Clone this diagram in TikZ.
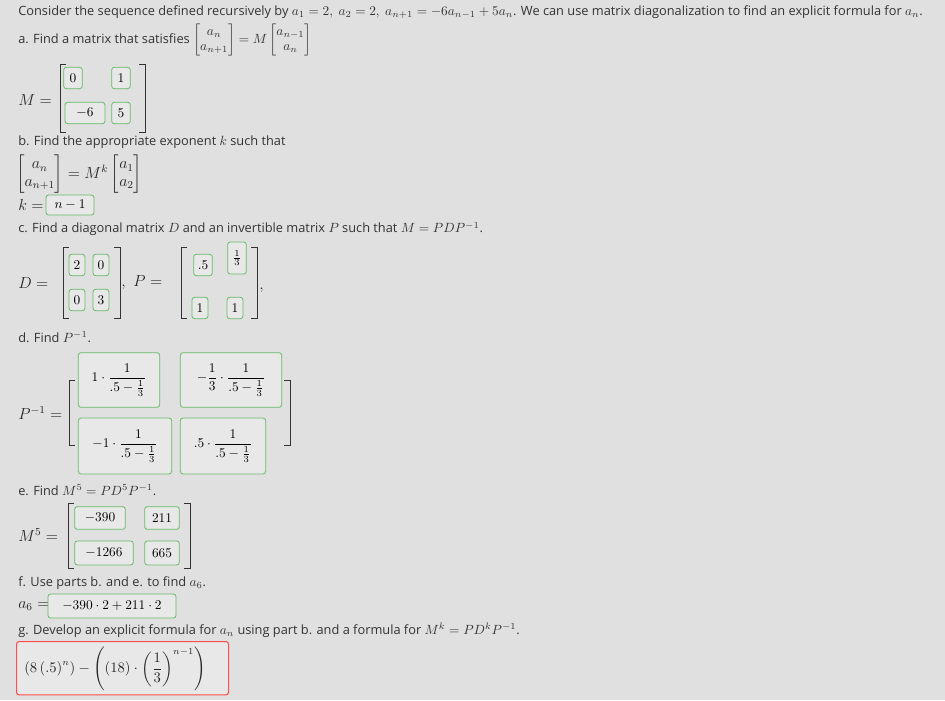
\documentclass[tikz,border=0pt]{standalone}
\usepackage{amsmath}
\usepackage{fontspec}
\setsansfont{Open Sans}
\begin{document}
\begin{tikzpicture}[x=0.75pt,y=-0.75pt,
  txt/.style={anchor=west,inner sep=0pt,font=\sffamily\fontsize{9.6pt}{11pt}\selectfont,text=black!80},
  mth/.style={inner sep=0pt,font=\fontsize{11.5pt}{13pt}\selectfont,text=black!85},
  ans/.style={draw=green!55!black!60,fill=black!9,rounded corners=2pt,line width=0.6pt,inner sep=2pt},
  wrong/.style={draw=red!70,fill=black!9,rounded corners=2pt,line width=0.8pt},
  brk/.style={line width=0.6pt,black!80}]
\fill[black!12] (0,0) rectangle (945,700);
\useasboundingbox (0,0) rectangle (945,700);
% line 1
\node[txt] (l1) at (18,12) {Consider the sequence defined recursively by $a_1=2,\ a_2=2,\ a_{n+1}=-6a_{n-1}+5a_n$. We can use matrix diagonalization to find an explicit formula for $a_n$.};
\node[txt] (l2) at (18,40) {a. Find a matrix that satisfies $\begin{bmatrix}a_n\\ a_{n+1}\end{bmatrix}=M\begin{bmatrix}a_{n-1}\\ a_n\end{bmatrix}$};
% M matrix
\node[mth,anchor=west] (Meq) at (18,100) {$M=$};
\draw[brk] (66,64) -- (60,64) -- (60,132) -- (66,132);
\draw[brk] (139,64) -- (145,64) -- (145,132) -- (139,132);
\node[ans,minimum width=14pt,minimum height=16pt] (m11) at (73,78) {$0$};
\node[ans,minimum width=14pt,minimum height=16pt] (m12) at (121,78) {$1$};
\node[ans,minimum width=30pt,minimum height=16pt] (m21) at (85,113) {$-6$};
\node[ans,minimum width=14pt,minimum height=16pt] (m22) at (121,113) {$5$};
% b
\node[txt] (lb) at (18,142) {b. Find the appropriate exponent $k$ such that};
\node[mth,anchor=west] (beq) at (16,174) {$\begin{bmatrix}a_n\\ a_{n+1}\end{bmatrix}=M^k\begin{bmatrix}a_1\\ a_2\end{bmatrix}$};
\node[mth,anchor=west] (keq) at (18,205) {$k=$};
\node[ans,minimum width=36pt,minimum height=15pt] (kans) at (70,205) {$n-1$};
% c
\node[txt] (lc) at (18,229) {c. Find a diagonal matrix $D$ and an invertible matrix $P$ such that $M=PDP^{-1}$.};
\node[mth,anchor=west] (Deq) at (18,283) {$D=$};
\draw[brk] (69,247) -- (63,247) -- (63,318) -- (69,318);
\draw[brk] (114,247) -- (120,247) -- (120,318) -- (114,318);
\node[ans,minimum width=12pt,minimum height=16pt] (d11) at (77,265) {$2$};
\node[ans,minimum width=12pt,minimum height=16pt] (d12) at (101,265) {$0$};
\node[ans,minimum width=12pt,minimum height=16pt] (d21) at (77,300) {$0$};
\node[ans,minimum width=12pt,minimum height=16pt] (d22) at (101,300) {$3$};
\node[mth,anchor=west] (Peq) at (121,283) {$,\ P=$};
\draw[brk] (187,247) -- (181,247) -- (181,318) -- (187,318);
\draw[brk] (251,247) -- (257,247) -- (257,318) -- (251,318);
\node[mth,anchor=west] at (259,290) {$,$};
\node[ans,minimum width=14pt,minimum height=16pt] (p11) at (203,265) {$.5$};
\node[ans,minimum width=14pt,minimum height=24pt] (p12) at (237,258) {$\frac{1}{3}$};
\node[ans,minimum width=12pt,minimum height=16pt] (p21) at (200,308) {$1$};
\node[ans,minimum width=12pt,minimum height=16pt] (p22) at (235,308) {$1$};
% d
\node[txt] (ld) at (18,337) {d. Find $P^{-1}$.};
\node[mth,anchor=west] (Pieq) at (18,413) {$P^{-1}=$};
\draw[brk] (75,380) -- (69,380) -- (69,445) -- (75,445);
\draw[brk] (284,380) -- (290,380) -- (290,445) -- (284,445);
\begin{scope}[every node/.append style={font=\fontsize{10pt}{12pt}\selectfont}]
\node[ans,minimum width=61pt,minimum height=41pt] (q11) at (119,380) {$1\cdot\dfrac{1}{.5-\frac{1}{3}}$};
\node[ans,minimum width=76pt,minimum height=41pt] (q12) at (231,380) {$-\dfrac{1}{3}\cdot\dfrac{1}{.5-\frac{1}{3}}$};
\node[ans,minimum width=70pt,minimum height=42pt] (q21) at (125,446) {$-1\cdot\dfrac{1}{.5-\frac{1}{3}}$};
\node[ans,minimum width=64pt,minimum height=42pt] (q22) at (223,446) {$.5\cdot\dfrac{1}{.5-\frac{1}{3}}$};
\end{scope}
% e
\node[txt] (le) at (18,490) {e. Find $M^5=PD^5P^{-1}$.};
\node[mth,anchor=west] (M5eq) at (18,535) {$M^5=$};
\draw[brk] (74,503) -- (68,503) -- (68,568) -- (74,568);
\draw[brk] (184,503) -- (190,503) -- (190,568) -- (184,568);
\node[ans,minimum width=38pt,minimum height=17pt] (e11) at (100,518) {$-390$};
\node[ans,minimum width=26pt,minimum height=17pt] (e12) at (162,518) {$211$};
\node[ans,minimum width=44pt,minimum height=18pt] (e21) at (104,553) {$-1266$};
\node[ans,minimum width=26pt,minimum height=18pt] (e22) at (162,553) {$665$};
% f
\node[txt] (lf) at (18,583) {f. Use parts b. and e. to find $a_6$.};
\node[mth,anchor=west] (a6eq) at (18,606) {$a_6=$};
\node[ans,minimum width=96pt,minimum height=18pt] (a6) at (112,606) {$-390\cdot2+211\cdot2$};
% g
\node[txt] (lg) at (18,630) {g. Develop an explicit formula for $a_n$ using part b. and a formula for $M^k=PD^kP^{-1}$.};
\node[wrong,minimum width=159pt,minimum height=40pt,anchor=north west] (gans) at (16,641) {};
\node[mth,anchor=west,font=\fontsize{10.5pt}{12pt}\selectfont] (gexp) at (24,669) {$\left(8\left(.5\right)^{n}\right)-\left(\left(18\right)\cdot\left(\dfrac{1}{3}\right)^{n-1}\right)$};
\end{tikzpicture}
\end{document}
